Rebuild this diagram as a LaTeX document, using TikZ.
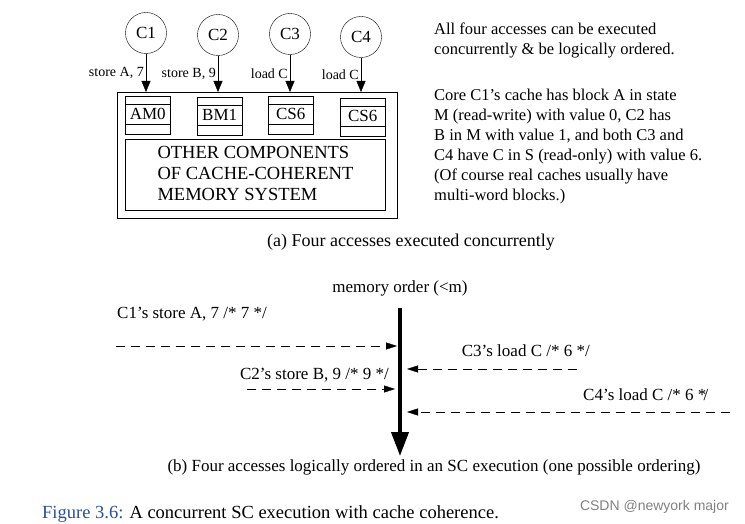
\documentclass[tikz,border=0pt]{standalone}
\usepackage{fontspec}
\setmainfont{Liberation Serif}
\newfontfamily\wm{Liberation Sans}
\usetikzlibrary{arrows.meta}
\definecolor{figblue}{RGB}{40,80,150}
\begin{document}
\begin{tikzpicture}[x=1pt,y=-1pt,font=\fontsize{17}{19}\selectfont,
 core/.style={circle,draw,minimum size=41pt,inner sep=0pt},
 conn/.style={-{Triangle[length=11pt,width=9pt]},thin},
 dsh/.style={dash pattern=on 9pt off 6pt,-{Triangle[length=11pt,width=7pt]},thin},
 txt/.style={inner sep=0pt,anchor=base west},
 lab/.style={midway,left,inner sep=2pt,font=\fontsize{14}{16}\selectfont}]
\useasboundingbox (0,0) rectangle (745,524);
\node[core] (c1) at (146,33) {C1};
\node[core] (c2) at (218,35) {C2};
\node[core] (c3) at (290,34) {C3};
\node[core] (c4) at (361,37) {C4};
\node[draw,minimum width=280pt,minimum height=126pt,anchor=north west] (outer) at (117,92) {};
\coordinate (t1) at (146,92); \coordinate (t2) at (218,92);
\coordinate (t3) at (290,92); \coordinate (t4) at (361,92);
\draw[conn] (c1) -- (t1) node[lab]{store A, 7};
\draw[conn] (c2) -- (t2) node[lab]{store B, 9};
\draw[conn] (c3) -- (t3) node[lab]{load C};
\draw[conn] (c4) -- (t4) node[lab]{load C};
\foreach \x/\y/\t/\n in {125/96/AM0/a,197/97/BM1/b,268/96/CS6/c,340/98/CS6/d}{
 \draw (\x,\y) rectangle (\x+45,\y+38);
 \node[draw,minimum width=45pt,minimum height=20pt,anchor=north west,inner sep=0pt] (\n) at (\x,\y+8) {\t};
}
\node[draw,minimum width=260pt,minimum height=71pt,anchor=north west] (mem) at (125,139) {};
\node[align=left,anchor=west,font=\fontsize{18.5}{21}\selectfont] (memt) at (154,173) {OTHER COMPONENTS\\OF CACHE-COHERENT\\MEMORY SYSTEM};
\node[align=left,anchor=north west,inner sep=0pt,font=\fontsize{16.5}{19.7}\selectfont] (r1) at (434,23) {All four accesses can be executed\\concurrently \& be logically ordered.};
\node[align=left,anchor=north west,inner sep=0pt,font=\fontsize{16.5}{19.9}\selectfont] (r2) at (434,89) {Core C1's cache has block A in state\\M (read-write) with value 0, C2 has\\B in M with value 1, and both C3 and\\C4 have C in S (read-only) with value 6.\\(Of course real caches usually have\\multi-word blocks.)};
\node[font=\fontsize{18}{20}\selectfont] (capa) at (411,242) {(a) Four accesses executed concurrently};
\node (mo) at (400,288) {memory order (<m)};
\coordinate (mtop) at (400,308); \coordinate (mbot) at (400,456);
\draw[line width=4pt,-{Triangle[length=24pt,width=17pt]}] (mtop) -- (mbot);
\node[txt] (l1) at (117,318) {C1's store A, 7 /* 7 */};
\coordinate (s1) at (116,346); \coordinate (e1) at (397,346);
\draw[dsh] (s1) -- (e1);
\node[txt,anchor=base east] (l3) at (590,356) {C3's load C /* 6 */};
\coordinate (s3) at (577,369); \coordinate (e3) at (407,369);
\draw[dsh] (s3) -- (e3);
\node[txt,anchor=base east] (l2) at (389,379) {C2's store B, 9 /* 9 */};
\coordinate (s2) at (247,389); \coordinate (e2) at (395,389);
\draw[dsh] (s2) -- (e2);
\node[txt] (l4) at (583,400) {C4's load C /* 6 *\!/};
\coordinate (s4) at (730,412); \coordinate (e4) at (407,412);
\draw[dsh] (s4) -- (e4);
\node (capb) at (434,467) {(b) Four accesses logically ordered in an SC execution (one possible ordering)};
\node[txt,font=\fontsize{18.5}{20}\selectfont] (fig) at (42,518) {\textcolor{figblue}{Figure 3.6:} A concurrent SC execution with cache coherence.};
\node[txt,anchor=base east,font=\wm\fontsize{14}{16}\selectfont,text=gray] (csdn) at (729,510) {CSDN @newyork major};
\end{tikzpicture}
\end{document}
